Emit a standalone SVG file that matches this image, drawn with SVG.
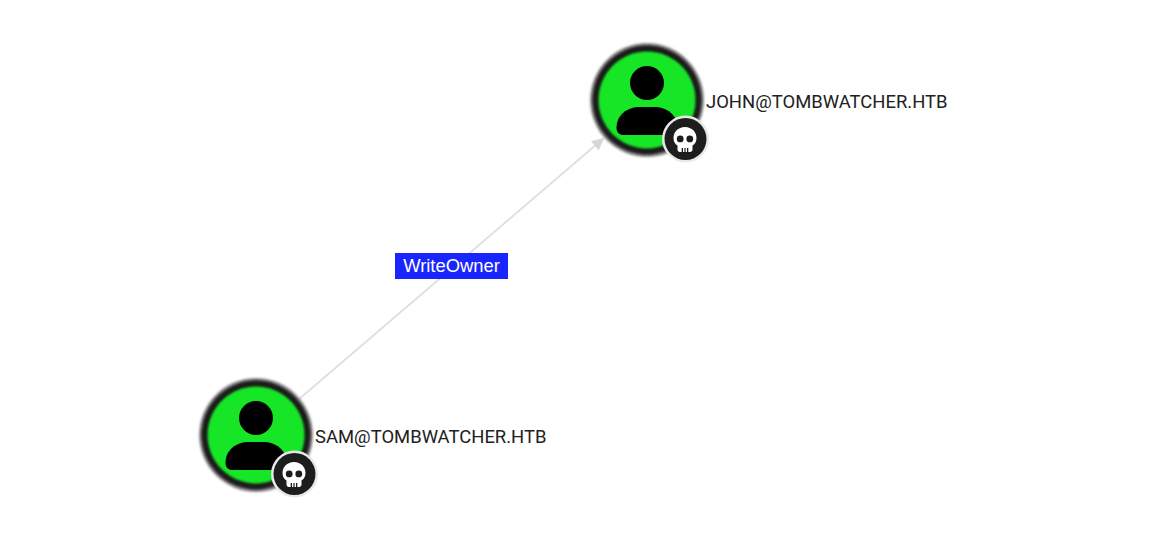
<svg xmlns="http://www.w3.org/2000/svg" width="1153" height="555" viewBox="0 0 1153 555">
<style>
.lbl{font-family:Roboto,"Liberation Sans",sans-serif;font-size:18.450px;fill:#212121}
.edge{stroke:#e0e0e0;stroke-width:2;fill:none}
.tag{font-family:"Liberation Sans",Arial,sans-serif;font-size:18.400px;fill:#fff;text-anchor:middle}
</style>
<defs>
<filter id="soft" x="-10%" y="-10%" width="120%" height="120%"><feGaussianBlur stdDeviation="0.8"/></filter>
<marker id="arrow" markerUnits="userSpaceOnUse" markerWidth="14" markerHeight="12" refX="12" refY="6" orient="auto"><path d="M0 0L12 6L0 12Z" fill="#d6d6d6"/></marker>
<g id="user">
<circle cx="0" cy="0" r="57" fill="#8c8c8c" filter="url(#soft)"/>
<circle cx="0" cy="0" r="54.500" fill="#1d1d1d" filter="url(#soft)"/>
<circle cx="0" cy="0" r="48.500" fill="#17e625" filter="url(#soft)"/>
<circle cx="0" cy="-17" r="17"/>
<path d="M-30.500 28C-30.500 15-20 7-7 7H7C20 7 30.500 15 30.500 28C30.500 32 28 35 24 35H-24C-28 35-30.500 32-30.500 28Z"/>
<circle cx="38.500" cy="39" r="23.500" fill="#e8e8e8"/>
<circle cx="38.500" cy="39" r="21" fill="#1d1d1d"/>
<path transform="translate(1 .5)" fill="#fff" fill-rule="evenodd" d="M37 26.500C44 26.500 48.500 31.500 48.500 37.500C48.500 41 47 43.500 44.500 45V49C44.500 50.500 43.500 51.500 42 51.500H32C30.500 51.500 29.500 50.500 29.500 49V45C27 43.500 25.500 41 25.500 37.500C25.500 31.500 30 26.500 37 26.500ZM32.200 35A3.400 3.400 0 1 0 32.200 41.800A3.400 3.400 0 1 0 32.200 35ZM41.800 35A3.400 3.400 0 1 0 41.800 41.800A3.400 3.400 0 1 0 41.800 35ZM33.700 47.500V51.500H35V47.500ZM36.400 47.500V51.500H37.600V47.500ZM39 47.500V51.500H40.300V47.500Z"/>
</g>
</defs>
<rect width="1153" height="555" fill="#fff"/>
<g id="connectors">
<line class="edge" x1="298" y1="400" x2="604" y2="138" marker-end="url(#arrow)"/>
</g>
<g id="edge-label">
<rect x="395" y="253" width="113" height="26" fill="#1a24ff"/>
<text class="tag" x="451.500" y="271.500">WriteOwner</text>
</g>
<g id="john">
<use href="#user" x="647" y="100"/>
<text class="lbl" x="706" y="107.500">JOHN@TOMBWATCHER.HTB</text>
</g>
<g id="sam">
<use href="#user" x="256" y="435"/>
<text class="lbl" x="315" y="442.500">SAM@TOMBWATCHER.HTB</text>
</g>
</svg>
